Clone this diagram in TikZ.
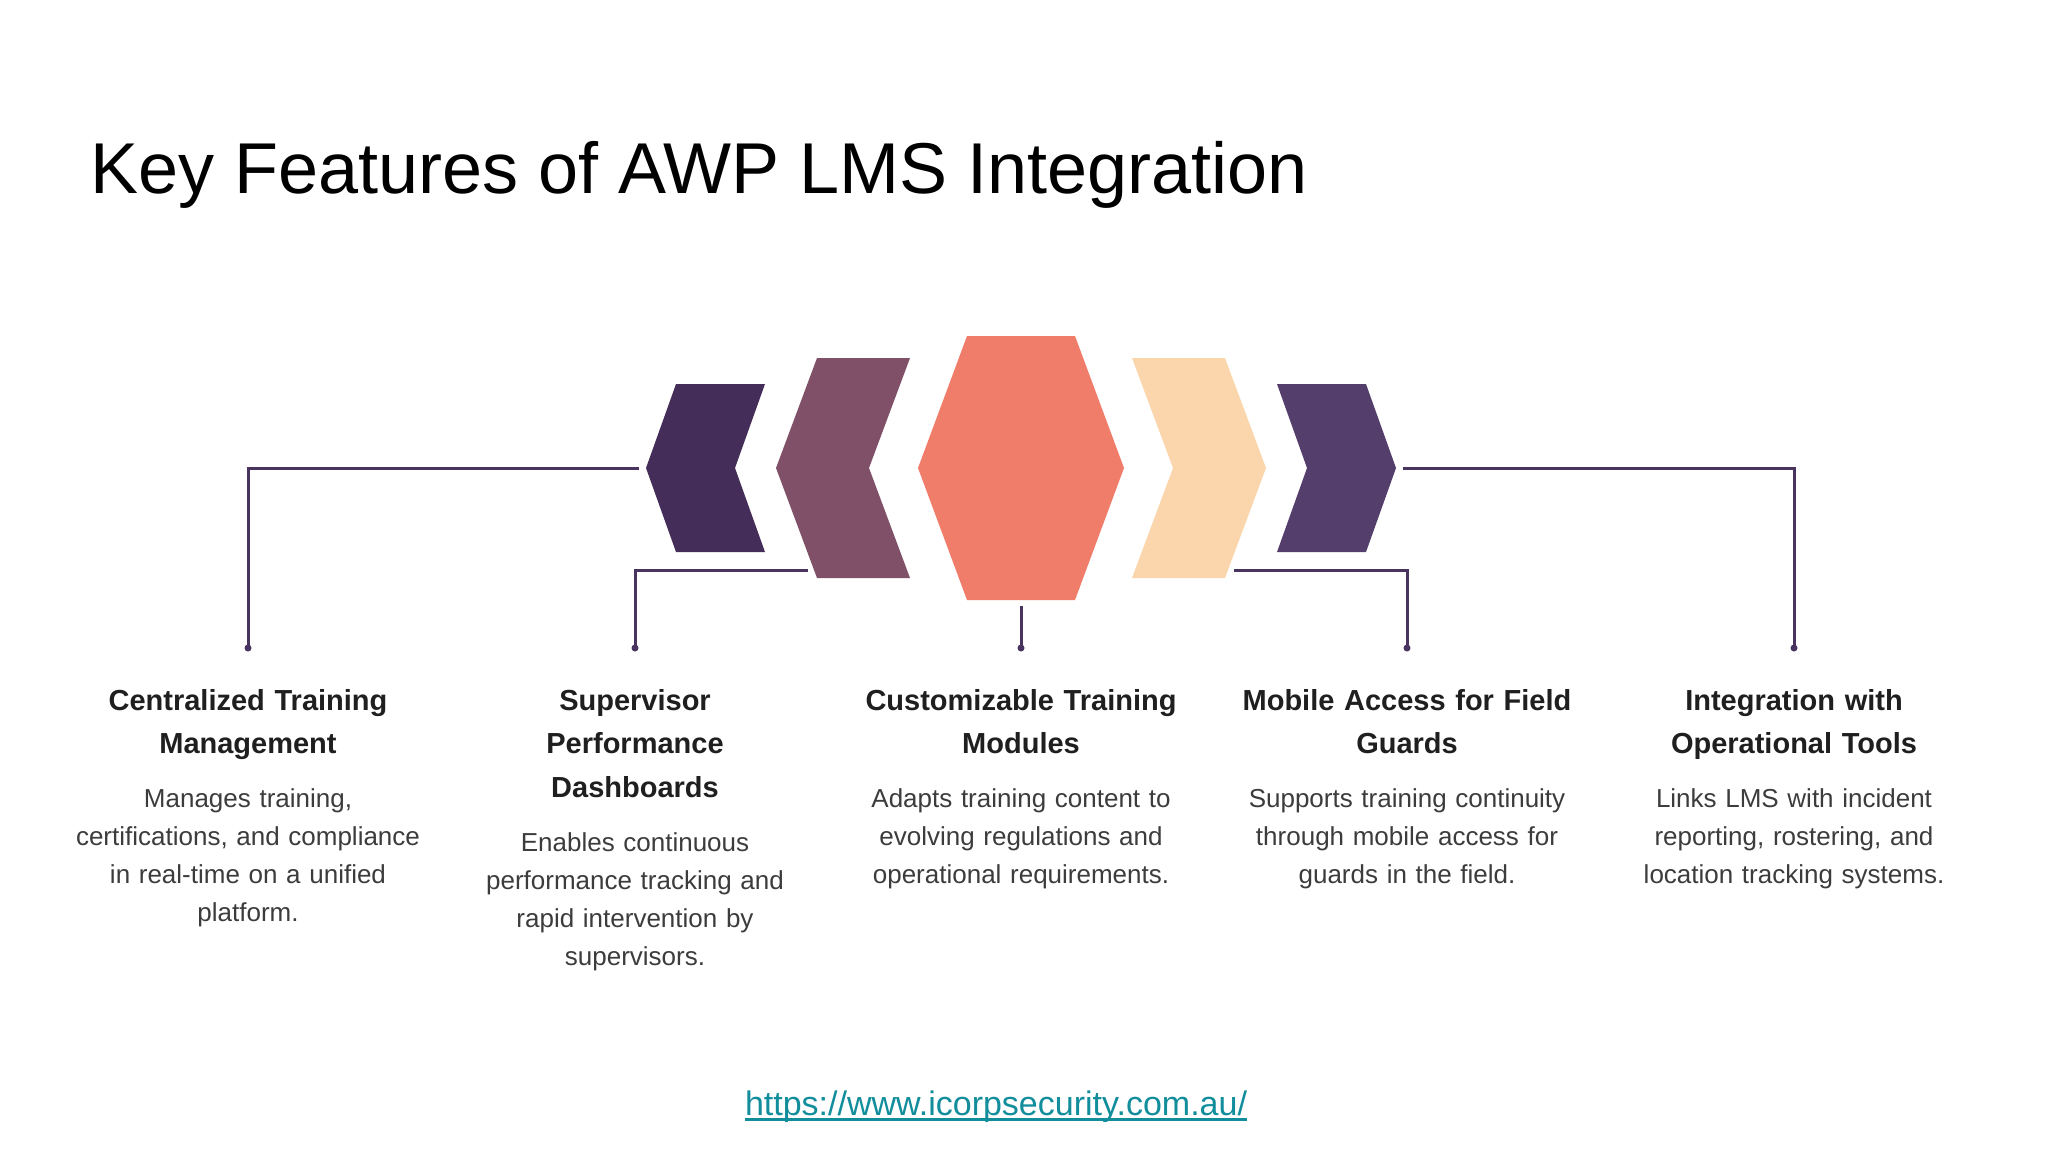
\documentclass[tikz,border=0pt]{standalone}
\usepackage{fontspec}
\setmainfont{Liberation Sans}
\definecolor{shA}{RGB}{69,45,90}
\definecolor{shB}{RGB}{128,80,105}
\definecolor{shC}{RGB}{240,124,106}
\definecolor{shD}{RGB}{251,214,172}
\definecolor{shE}{RGB}{84,62,108}
\definecolor{lineC}{RGB}{72,52,95}
\definecolor{headC}{RGB}{31,31,31}
\definecolor{bodyC}{RGB}{60,60,60}
\definecolor{urlC}{RGB}{17,141,156}
\begin{document}
\begin{tikzpicture}[x=1pt,y=-1pt,
  conn/.style={draw=lineC, line width=3pt},
  enddot/.style={circle, fill=lineC, inner sep=0pt, minimum size=7pt},
  head/.style={anchor=base, text width=380pt, align=center, inner sep=0pt,
    font=\bfseries\fontsize{29}{43.5}\selectfont, text=headC},
  body/.style={anchor=base, text width=380pt, align=center, inner sep=0pt,
    font=\fontsize{26}{38}\selectfont, text=bodyC}]
\useasboundingbox (0,0) rectangle (2048,1152);
\fill[white] (0,0) rectangle (2048,1152);

% title
\node[anchor=base west, inner sep=0pt, font=\fontsize{72}{86}\selectfont, text=black]
  (title) at (90,193) {Key Features of AWP LMS Integration};

% shapes
\fill[shA] (676,384) -- (765,384) -- (735,468) -- (765,552) -- (676,552) -- (646,468) -- cycle;
\fill[shB] (817,358) -- (910,358) -- (869,468) -- (910,578) -- (817,578) -- (776,468) -- cycle;
\fill[shC] (967,336) -- (1075,336) -- (1124,468) -- (1075,600) -- (967,600) -- (918,468) -- cycle;
\fill[shD] (1132,358) -- (1225,358) -- (1266,468) -- (1225,578) -- (1132,578) -- (1173,468) -- cycle;
\fill[shE] (1277,384) -- (1366,384) -- (1396,468) -- (1366,552) -- (1277,552) -- (1307,468) -- cycle;

% connector start points
\coordinate (s1w) at (639,468);
\coordinate (s2w) at (808,570);
\coordinate (s3s) at (1021,606);
\coordinate (s4e) at (1234,570);
\coordinate (s5e) at (1403,468);

% end dots
\node[enddot] (e1) at (248,648) {};
\node[enddot] (e2) at (635,648) {};
\node[enddot] (e3) at (1021,648) {};
\node[enddot] (e4) at (1407,648) {};
\node[enddot] (e5) at (1794,648) {};

\draw[conn] (s1w) -| (e1.center);
\draw[conn] (s2w) -| (e2.center);
\draw[conn] (s3s) -- (e3.center);
\draw[conn] (s4e) -| (e4.center);
\draw[conn] (s5e) -| (e5.center);

% headings
\node[head] (h1) at (248,710) {Centralized Training\\Management};
\node[head] (h2) at (635,710) {Supervisor\\Performance\\Dashboards};
\node[head] (h3) at (1021,710) {Customizable Training\\Modules};
\node[head] (h4) at (1407,710) {Mobile Access for Field\\Guards};
\node[head] (h5) at (1794,710) {Integration with\\Operational Tools};

% descriptions
\node[body] (b1) at (248,807) {Manages training,\\certifications, and compliance\\in real-time on a unified\\platform.};
\node[body] (b2) at (635,851) {Enables continuous\\performance tracking and\\rapid intervention by\\supervisors.};
\node[body] (b3) at (1021,807) {Adapts training content to\\evolving regulations and\\operational requirements.};
\node[body] (b4) at (1407,807) {Supports training continuity\\through mobile access for\\guards in the field.};
\node[body] (b5) at (1794,807) {Links LMS with incident\\reporting, rostering, and\\location tracking systems.};

% url
\node[anchor=base, inner sep=0pt, font=\fontsize{34}{40}\selectfont, text=urlC]
  (url) at (996,1115) {https://www.icorpsecurity.com.au/};
\draw[urlC, line width=2.5pt] ([yshift=-4.5pt]url.base west) -- ([yshift=-4.5pt]url.base east);
\end{tikzpicture}
\end{document}
